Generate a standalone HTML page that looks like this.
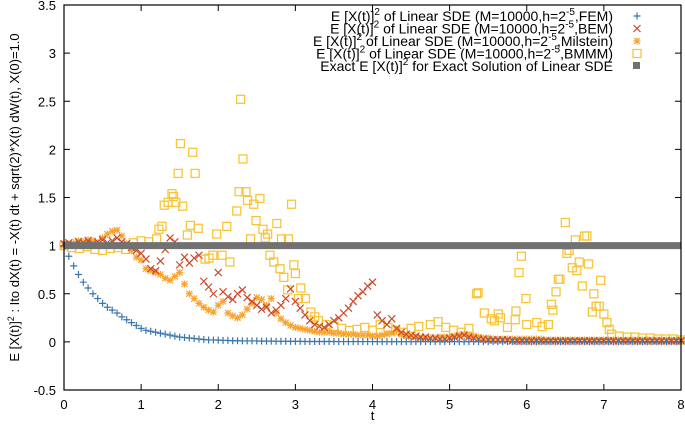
<!DOCTYPE html>
<html><head><meta charset="utf-8"><style>
body{margin:0;background:#fff}
svg{display:block;font-family:"Liberation Sans",sans-serif}
</style></head><body>
<svg id="c" width="685" height="425"></svg>
<script>
const xTicks=[0,1,2,3,4,5,6,7,8];
const yTicks=[-0.5,0,0.5,1,1.5,2,2.5,3,3.5];
const gridStep=0.0625;
const femV=[1,.89,.79,.70,.62,.56,.50,.45,.40,.36,.33,.30,.26,.23,.20,.17,.14,
.12,.11,.10,.09,.08,.07,.06,.05,.045,.04,.035,.03,.025,.02,.02,.018,
.015,.015,.012,.012,.01,.01,.01,.01,.008,.008,.008,.006,.006,.006,.005,.005,
.005,.004,.004,.004,.004,.004,.004,.004,.003,.003,.003,.003,.003,.003,.003,.003,
.002,.002,.002,.002,.002,.002,.002,.002,.002,.002,.002,.002,.002,.002,.002,.002,
.002,.002,.002,.002,.002,.002,.002,.002,.002,.002,.002,.002,.002,.002,.002,.002,
.001,.001,.001,.001,.001,.001,.001,.001,.001,.001,.001,.001,.001,.001,.001,.001,
.001,.001,.001,.001,.001,.001,.001,.001,.001,.001,.001,.001,.001,.001,.001,.001];
const bemV=[1.02,1.03,1.01,1.04,1.03,1.05,1.02,1.04,1.06,1.03,1.05,1.08,1.04,1.02,.98,.95,
.92,.86,.76,.74,.84,.96,1.08,1.04,.80,.88,.82,.87,.90,.63,.57,.50,
.72,.52,.47,.44,.50,.54,.46,.42,.38,.34,.36,.30,.33,.38,.45,.55,
.42,.35,.28,.22,.18,.16,.15,.18,.22,.25,.30,.35,.42,.48,.52,.58,
.62,.28,.22,.18,.24,.14,.10,.08,.07,.06,.05,.05,.04,.04,.03,.03,
.04,.05,.06,.07,.05,.04,.03,.03,.02,.02,.02,.02,.02,.01,.01,.01,
.01,.01,.01,.01,.01,.01,.01,.01,.01,.01,.01,.01,.01,.01,.01,.01,
.01,.01,.01,.01,.01,.01,.01,.01,.01,.01,.01,.01,.01,.01,.01,.01,.01];
const milV=[1.0,1.02,1.03,1.05,1.04,1.06,1.05,1.03,1.08,1.12,1.15,1.16,1.10,1.02,.95,.88,
.85,.76,.74,.72,.70,.66,.64,.68,.72,.60,.50,.45,.40,.36,.33,.31,
.38,.42,.30,.27,.25,.28,.34,.40,.46,.44,.38,.45,.30,.24,.20,.17,
.15,.14,.13,.12,.11,.10,.10,.10,.09,.09,.08,.08,.08,.07,.07,.07,
.06,.06,.07,.08,.09,.12,.08,.06,.05,.05,.04,.04,.04,.04,.05,.05,
.05,.06,.07,.08,.07,.06,.05,.04,.04,.03,.03,.03,.03,.03,.03,.03,
.03,.03,.03,.03,.02,.02,.02,.02,.02,.02,.02,.02,.02,.02,.02,.02,
.02,.02,.02,.02,.02,.02,.02,.02,.02,.02,.02,.02,.02,.02,.02,.02,.02];
const bmmmT=[0,.1,.2,.3,.4,.5,.6,.7,.8,.9,1.0,1.1,1.2,1.23,1.27,1.3,1.35,1.4,1.42,1.45,1.48,1.51,1.54,1.6,1.64,1.67,1.7,1.74,1.83,1.88,1.93,1.98,2.05,2.11,2.15,2.24,2.27,2.29,2.32,2.36,2.38,2.42,2.46,2.49,2.54,2.58,2.61,2.64,2.67,2.72,2.76,2.8,2.82,2.85,2.9,2.91,2.95,2.98,3.0,3.04,3.07,3.13,3.2,3.25,3.3,3.4,3.5,3.6,3.7,3.8,3.9,4.0,4.1,4.2,4.3,4.4,4.5,4.6,4.75,4.85,4.95,5.05,5.15,5.25,5.35,5.37,5.45,5.54,5.58,5.63,5.66,5.75,5.85,5.86,5.9,5.93,5.99,6.0,6.13,6.2,6.28,6.32,6.34,6.38,6.41,6.43,6.5,6.52,6.55,6.59,6.63,6.65,6.68,6.72,6.75,6.78,6.8,6.85,6.87,6.9,6.94,6.96,7.0,7.04,7.07,7.1,7.2,7.3,7.4,7.5,7.6,7.7,7.8,7.9,8.0];
const bmmmV=[1.0,.98,.97,.99,.96,.95,.97,.98,.96,1.03,1.05,1.04,1.07,1.17,1.2,1.42,1.45,1.54,1.51,1.45,1.75,2.06,1.41,1.11,1.21,1.97,1.75,1.18,.86,.87,.9,1.12,.9,1.2,.83,1.36,1.56,2.52,1.9,1.56,1.47,1.07,1.43,1.26,1.49,1.17,1.08,1.12,.9,.83,1.23,.76,1.07,.67,.54,1.07,1.43,.8,.71,.45,.56,.45,.31,.26,.22,.18,.16,.14,.12,.13,.15,.12,.18,.15,.12,.1,.14,.16,.18,.21,.15,.12,.1,.14,.5,.51,.3,.24,.22,.29,.25,.15,.23,.32,.72,.89,.45,.18,.2,.16,.18,.39,.33,.52,.65,.65,1.24,.92,.95,.77,1.06,.74,.83,.58,1.1,1.1,.81,.31,.5,.37,.37,.64,.29,.2,.13,.08,.06,.05,.05,.04,.04,.03,.03,.03,.02];
const exactT=[0,8];
const exactV=[1,1];

const NS="http://www.w3.org/2000/svg";
const svg=document.getElementById('c');
const L=64,R=681,T=5,B=390;
const xs=t=>L+(t-0)/(8-0)*(R-L);
const ys=v=>B-(v-(-0.5))/(3.5-(-0.5))*(B-T);
function mk(tag,attrs,parent){const e=document.createElementNS(NS,tag);for(const k in attrs)e.setAttribute(k,attrs[k]);(parent||svg).appendChild(e);return e;}

// ticks and labels
xTicks.forEach(t=>{
  const g=mk('g',{});
  
  
  mk('line',{x1:xs(t),x2:xs(t),y1:B,y2:B-6,stroke:'#000','stroke-width':1},g);
  mk('line',{x1:xs(t),x2:xs(t),y1:T,y2:T+6,stroke:'#000','stroke-width':1},g);
  const tx=mk('text',{x:xs(t),y:B+19,'text-anchor':'middle','font-size':13,fill:'#000'},g);
  tx.textContent=String(t);
});
yTicks.forEach(v=>{
  const g=mk('g',{});
  
  
  mk('line',{x1:L,x2:L+6,y1:ys(v),y2:ys(v),stroke:'#000','stroke-width':1},g);
  mk('line',{x1:R,x2:R-6,y1:ys(v),y2:ys(v),stroke:'#000','stroke-width':1},g);
  const tx=mk('text',{x:L-8,y:ys(v)+5,'text-anchor':'end','font-size':13,fill:'#000'},g);
  tx.textContent=String(v);
});

const colB='#3a75ad',colR='#cc4a2e',colO='#f7a32e',colY='#f8c53a';
function plus(g,x,y,c){mk('path',{d:`M${x-3.5} ${y}H${x+3.5}M${x} ${y-3.5}V${y+3.5}`,stroke:c,'stroke-width':1.2,fill:'none'},g);}
function cross(g,x,y,c){mk('path',{d:`M${x-3.5} ${y-3.5}L${x+3.5} ${y+3.5}M${x-3.5} ${y+3.5}L${x+3.5} ${y-3.5}`,stroke:c,'stroke-width':1.2,fill:'none'},g);}
function star(g,x,y,c){mk('path',{d:`M${x-3.5} ${y}H${x+3.5}M${x} ${y-3.5}V${y+3.5}M${x-3} ${y-3}L${x+3} ${y+3}M${x-3} ${y+3}L${x+3} ${y-3}`,stroke:c,'stroke-width':1.2,fill:'none'},g);}
function box(g,x,y,c){mk('rect',{x:x-4,y:y-4,width:8,height:8,stroke:c,'stroke-width':1.3,fill:'none'},g);}

// exact line
const gE=mk('g',{});


mk('line',{x1:xs(exactT[0]),x2:xs(exactT[1]),y1:ys(exactV[0]),y2:ys(exactV[1]),stroke:'#717171','stroke-width':7},gE);

function gridSeries(name,vals,fn,c){
  const g=mk('g',{});
  
  
  vals.forEach((v,i)=>fn(g,xs(i*gridStep),ys(v),c));
}
const gY=mk('g',{});


bmmmT.forEach((t,i)=>box(gY,xs(t),ys(bmmmV[i]),colY));
gridSeries('milstein-series',milV,star,colO);
gridSeries('bem-series',bemV,cross,colR);
gridSeries('fem-series',femV,plus,colB);
// re-draw exact on top region
svg.appendChild(gE);

// frame
const fr=mk('rect',{x:L,y:T,width:R-L,height:B-T,fill:'none',stroke:'#000','stroke-width':1.2});



// legend
const legend=[
 ['E [X(t)]','2',' of Linear SDE (M=10000,h=2','-5',',FEM)',plus,colB],
 ['E [X(t)]','2',' of Linear SDE (M=10000,h=2','-5',',BEM)',cross,colR],
 ['E [X(t)]','2',' of Linear SDE (M=10000,h=2','-5',',Milstein)',star,colO],
 ['E [X(t)]','2',' of Linear SDE (M=10000,h=2','-5',',BMMM)',box,colY],
];
const lg=mk('g',{});


legend.forEach((e,i)=>{
  const y=21+i*12.5;
  const t=mk('text',{x:613,y:y,'text-anchor':'end','font-size':14,fill:'#000'},lg);
  t.innerHTML=`${e[0]}<tspan dy="-6" font-size="10">${e[1]}</tspan><tspan dy="6">${e[2]}</tspan><tspan dy="-6" font-size="10">${e[3]}</tspan><tspan dy="6">${e[4]}</tspan>`;
  e[5](lg,637,y-5,e[6]);
});
const t5=mk('text',{x:613,y:71,'text-anchor':'end','font-size':14,fill:'#000'},lg);
t5.innerHTML='Exact E [X(t)]<tspan dy="-6" font-size="10">2</tspan><tspan dy="6"> for Exact Solution of Linear SDE</tspan>';
mk('rect',{x:633,y:62,width:7,height:7,fill:'#717171'},lg);

// axis titles
const xt=mk('text',{x:(L+R)/2,y:420,'text-anchor':'middle','font-size':13,fill:'#000'});
xt.textContent='t';


const yt=mk('text',{x:0,y:0,'text-anchor':'middle','font-size':13,fill:'#000',transform:`translate(19,${(T+B)/2}) rotate(-90)`});
yt.innerHTML='E [X(t)]<tspan dy="-5" font-size="9">2</tspan><tspan dy="5"> : Ito dX(t) = -X(t) dt + sqrt(2)*X(t) dW(t), X(0)=1.0</tspan>';


</script>
</body></html>
